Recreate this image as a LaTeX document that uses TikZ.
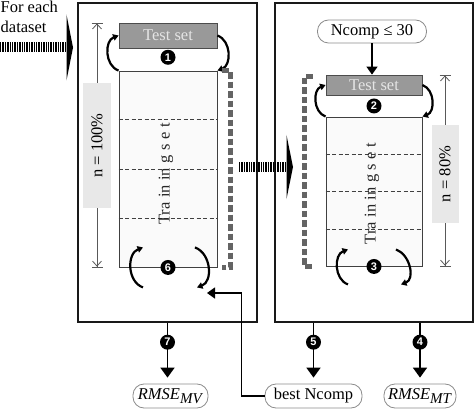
\documentclass[tikz,border=0pt]{standalone}
\usepackage{fontspec}
\setmainfont{Liberation Serif}
\newfontfamily\badgefont{Liberation Sans}
\usetikzlibrary{arrows.meta,positioning,calc}
\definecolor{setgray}{RGB}{153,153,153}
\definecolor{bandgray}{RGB}{232,232,232}
\definecolor{brkgray}{RGB}{100,100,100}
\definecolor{pillgray}{RGB}{140,140,140}
\newcommand{\rmse}[1]{\textit{RMSE}\raisebox{-0.45ex}{\fontsize{15}{15}\selectfont\textit{#1}}}
\newcommand{\gap}{\hspace{4.5pt}}
\newcommand{\trset}{Tra\gap in\gap in\gap g\gap s\gap e\gap t}

\begin{document}
\begin{tikzpicture}[x=1pt, y=1pt,
  font=\fontsize{16.5}{20}\selectfont,
  frame/.style={draw=black!90, line width=1.4pt, inner sep=0pt},
  testset/.style={draw=black!70, line width=0.8pt, fill=setgray, text=white!90!black, inner sep=0pt},
  trainset/.style={draw=black!75, line width=0.9pt, fill=black!2, inner sep=0pt},
  trtext/.style={rotate=90, text=black!85, inner sep=0pt},
  band/.style={fill=bandgray, inner sep=0pt, rotate=90},
  badge/.style={circle, fill=black, text=white, inner sep=0pt, minimum size=15pt,
                font=\badgefont\bfseries\fontsize{11}{11}\selectfont},
  pill/.style={draw=pillgray, line width=0.8pt, rounded corners=11pt, fill=white,
               minimum height=24pt, inner ysep=0pt, inner xsep=4pt},
  cyc/.style={line width=2.2pt, looseness=1.1, -{Triangle[length=5.5pt,width=6.5pt]}},
  dimtip/.style={black!65, line width=0.8pt, -{Straight Barb[length=5pt,width=9pt]Bar[width=11pt]}},
  tsep/.style={black!75, line width=0.8pt, dash pattern=on 4pt off 2.5pt},
  brk/.style={brkgray, line width=5pt, dash pattern=on 6.5pt off 3pt},
  hatch/.style={line width=10pt, dash pattern=on 1.3pt off 1.1pt,
                -{Triangle[length=6.5pt,width=#1,line width=0pt]}},
  result/.style={line width=1.8pt, shorten >=6pt, -{Triangle[length=10pt,width=14pt]}},
  feed/.style={line width=1.4pt, -{Triangle[length=8pt,width=11pt]}},
]
\useasboundingbox (0,0) rectangle (474,-409);
\node[frame, minimum width=179pt, minimum height=319pt] (mv) at (167.5,-162.5) {};
\node[frame, minimum width=198pt, minimum height=319pt] (mt) at (374,-162.5) {};
% incoming data
\node[anchor=north west, align=left, inner sep=0pt] (ds) at (0.5,-1) {For each\\dataset};
\coordinate (h0) at (0,-47.5);
\coordinate (h1) at (73,-47.5);
\draw[hatch=66pt] (h0) -- (h1);
% left box: whole dataset
\node[testset, minimum width=98pt, minimum height=25pt] (ts1) at (168,-35.5) {Test set};
\node[trainset, minimum width=98pt, minimum height=196pt] (tr1) at (168,-169) {};
\foreach \k in {1,2,3} \draw[tsep] ($(tr1.north west)!\k/4!(tr1.south west)$) -- ($(tr1.north east)!\k/4!(tr1.south east)$);
\node[trtext] (tx1) at ($(tr1.center)+(-2,-5)$) {\trset};
\node[badge] (b1) at ($(ts1.south)!0.4!(tr1.north)$) {1};
\draw[cyc] (tr1.north west) to[out=160, in=200] (ts1.west);
\draw[cyc] (ts1.east) to[out=-20, in=20] (tr1.north east);
\node[badge] (b6) at (tr1.south) {6};
\draw[cyc] ($(b6)+(-25,-20)$) to[out=160, in=200] ($(b6)+(-25,20)$);
\draw[cyc] ($(b6)+(27,20)$) to[out=-20, in=20] ($(b6)+(29,-20)$);
\node[band, minimum width=125pt, minimum height=28pt] (n1) at (97,-145.5) {n = 100\%};
\draw[dimtip] (n1.east) -- (ts1.north -| n1.center);
\draw[dimtip] (n1.west) -- (tr1.south -| n1.center);
\draw[brk] ($(tr1.north east)+(5,0)$) -- ++(8,0) |- ($(tr1.south east)+(5,0)$);
% right box: training part only
\node[pill, minimum width=109pt, minimum height=23pt] (nc) at (372,-31.5) {Ncomp ≤ 30};
\node[testset, minimum width=96pt, minimum height=20pt] (ts2) at (374,-85) {Test set};
\draw[feed] (nc) -- (nc |- ts2.north);
\node[trainset, minimum width=96pt, minimum height=149pt] (tr2) at (374,-191.5) {};
\foreach \k in {1,2,3} \draw[tsep] ($(tr2.north west)!\k/4!(tr2.south west)$) -- ($(tr2.north east)!\k/4!(tr2.south east)$);
\node[trtext] (tx2) at ($(tr2.center)+(-2,-2)$) {\trset};
\node[badge] (b2) at ($(ts2.south)!0.5!(tr2.north)$) {2};
\draw[cyc] (tr2.north west) to[out=160, in=200] (ts2.west);
\draw[cyc] (ts2.east) to[out=-20, in=20] (tr2.north east);
\node[badge] (b3) at (tr2.south) {3};
\draw[cyc] ($(b3)+(-26,-18)$) to[out=160, in=200] ($(b3)+(-26,17)$);
\draw[cyc] ($(b3)+(22,17)$) to[out=-20, in=20] ($(b3)+(27,-18)$);
\node[band, minimum width=98pt, minimum height=27pt] (n2) at (445,-174) {n = 80\%};
\draw[dimtip] (n2.east) -- (ts2.north -| n2.center);
\draw[dimtip] (n2.west) -- (tr2.south -| n2.center);
\draw[brk] ($(ts2.north west)+(-13,-2)$) -- ++(-8.5,0) |- ($(tr2.south west)+(-13,0)$);
% hand over to the right box
\coordinate (h2) at (239,-167);
\coordinate (h3) at (293,-167);
\draw[hatch=64pt] (h2) -- (h3);
% outputs
\node[pill, minimum width=75pt] (o7) at (170.5,-396) {\rmse{MV}};
\node[pill, minimum width=97pt] (bn) at (313.5,-396) {best Ncomp};
\node[pill, minimum width=72pt] (o4) at (420,-396) {\rmse{MT}};
\draw[result] (mv.south) -- node[badge, pos=0.32] (b7) {7} (mv.south |- o7.north);
\draw[result] (mt.south -| bn.north) -- node[badge, pos=0.32] (b5) {5} (bn.north);
\draw[result] (mt.south -| o4.north) -- node[badge, pos=0.32] (b4) {4} (o4.north);
\coordinate (fb) at (207,-293);
\draw[feed] (bn.west) -- ++(-23,0) |- (fb);
\end{tikzpicture}
\end{document}
